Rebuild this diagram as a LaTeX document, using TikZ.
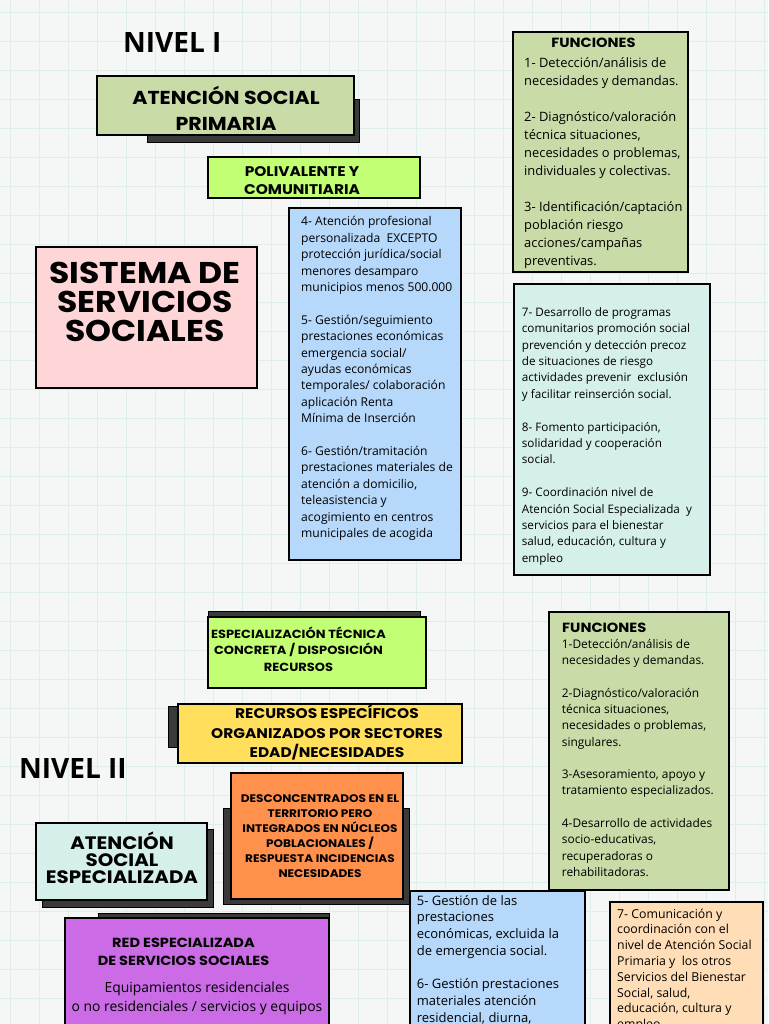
\documentclass[tikz,border=0pt]{standalone}
\usepackage{fontspec}
\setmainfont{Open Sans}
\newfontfamily\hfont{Poppins}[FakeStretch=1.1]
\definecolor{bgc}{HTML}{F5F6F6}
\definecolor{gridc}{HTML}{DFEDED}
\definecolor{shadowc}{HTML}{3A3A3A}
\definecolor{oliveg}{HTML}{C9DBA6}
\definecolor{limec}{HTML}{C3FF74}
\definecolor{pinkc}{HTML}{FFD6D8}
\definecolor{bluec}{HTML}{B6D8FB}
\definecolor{mintc}{HTML}{D5EFEB}
\definecolor{yellowc}{HTML}{FFDF5C}
\definecolor{orangec}{HTML}{FF914D}
\definecolor{purplec}{HTML}{CB6CE6}
\definecolor{peachc}{HTML}{FFDDB6}
\begin{document}
\begin{tikzpicture}[x=1pt,y=-1pt,
  box/.style={draw=black, line width=1.2pt, inner sep=0pt, outer sep=0pt, anchor=north west},
  shadowbox/.style={fill=shadowc, draw=black, line width=0.8pt, inner sep=0pt, outer sep=0pt, anchor=north west},
  body/.style={anchor=north west, inner sep=0pt, align=left, execute at begin node=\strut},
  head/.style={anchor=north, inner sep=0pt, align=center, execute at begin node=\strut},
  nivel/.style={anchor=base west, inner sep=0pt, font=\bfseries\fontsize{28}{30}\selectfont},
]
\clip (0,0) rectangle (768,1024);
\useasboundingbox (0,0) rectangle (768,1024);
\fill[bgc] (0,0) rectangle (768,1024);
\foreach \i in {10,39,...,768} \draw[gridc, line width=0.7pt] (\i,0) -- (\i,1024);
\foreach \j in {12,41,...,1024} \draw[gridc, line width=0.7pt] (0,\j) -- (768,\j);

% shadows
\node[shadowbox, minimum width=212pt, minimum height=43pt] (aspS) at (147,99) {};
\node[shadowbox, minimum width=212pt, minimum height=60pt] (espS) at (208,611) {};
\node[shadowbox, minimum width=280pt, minimum height=41pt] (recS) at (168,706) {};
\node[shadowbox, minimum width=186pt, minimum height=96pt] (desS) at (223,808) {};
\node[shadowbox, minimum width=171pt, minimum height=78pt] (aseS) at (42,829) {};
\node[shadowbox, minimum width=231pt, minimum height=130pt] (redS) at (98,913) {};

% boxes
\node[box, fill=oliveg, minimum width=257pt, minimum height=59pt] (asp) at (97,76) {};
\node[box, fill=limec, minimum width=212pt, minimum height=41pt] (poli) at (208,157) {};
\node[box, fill=pinkc, minimum width=221pt, minimum height=141pt] (sis) at (36,247) {};
\node[box, fill=oliveg, minimum width=175pt, minimum height=240pt] (funA) at (513,32) {};
\node[box, fill=bluec, minimum width=172pt, minimum height=352pt] (blueA) at (289,208) {};
\node[box, fill=mintc, minimum width=196pt, minimum height=291pt] (mint) at (514,284) {};
\node[box, fill=limec, minimum width=218pt, minimum height=71pt] (esp) at (208,617) {};
\node[box, fill=yellowc, minimum width=284pt, minimum height=59pt] (rec) at (178,704) {};
\node[box, fill=oliveg, minimum width=180pt, minimum height=278pt] (funB) at (549,612) {};
\node[box, fill=orangec, minimum width=172pt, minimum height=126pt] (des) at (231,773) {};
\node[box, fill=mintc, minimum width=171pt, minimum height=77pt] (ase) at (36,823) {};
\node[box, fill=purplec, minimum width=264pt, minimum height=130pt] (red) at (65,918) {};
\node[box, fill=bluec, minimum width=175pt, minimum height=150pt] (blueB) at (410,891) {};
\node[box, fill=peachc, minimum width=153pt, minimum height=140pt] (peach) at (610,902) {};

% titles
\node[nivel] (n1) at (123,53) {NIVEL I};
\node[nivel] (n2) at (19,778) {NIVEL II};

\node[head, font=\hfont\bfseries\fontsize{18.7}{26}\selectfont] (aspT) at (226,85.8)
  {ATENCIÓN SOCIAL\\PRIMARIA};
\node[head, font=\hfont\bfseries\fontsize{14}{18}\selectfont] (poliT) at (302,166.4)
  {POLIVALENTE Y\\COMUNITIARIA};
\node[head, font=\hfont\bfseries\fontsize{30}{29}\selectfont] (sisT) at (145,261.7)
  {SISTEMA DE\\SERVICIOS\\SOCIALES};
\node[head, font=\hfont\bfseries\fontsize{11.8}{16.5}\selectfont] (espT) at (298.5,626.5)
  {ESPECIALIZACIÓN TÉCNICA\\CONCRETA / DISPOSICIÓN\\RECURSOS};
\node[head, font=\hfont\bfseries\fontsize{14}{19.5}\selectfont] (recT) at (327,704.9)
  {RECURSOS ESPECÍFICOS\\ORGANIZADOS POR SECTORES\\EDAD/NECESIDADES};
\node[head, font=\hfont\bfseries\fontsize{11}{15}\selectfont] (desT) at (320,794.5)
  {DESCONCENTRADOS EN EL\\TERRITORIO PERO\\INTEGRADOS EN NÚCLEOS\\POBLACIONALES /\\RESPUESTA INCIDENCIAS\\NECESIDADES};
\node[head, font=\hfont\bfseries\fontsize{18}{17}\selectfont] (aseT) at (122,832.1)
  {ATENCIÓN\\SOCIAL\\ESPECIALIZADA};
\node[head, font=\hfont\bfseries\fontsize{13.2}{18}\selectfont] (redT) at (183.5,937.4)
  {RED ESPECIALIZADA\\DE SERVICIOS SOCIALES};
\node[head, font=\fontsize{13.9}{19}\selectfont] (redB) at (197,981.7)
  {Equipamientos residenciales\\o no residenciales / servicios y equipos};

\node[anchor=base, inner sep=0pt, font=\hfont\bfseries\fontsize{13.3}{14}\selectfont] (funAT) at (593.5,48) {FUNCIONES};
\node[anchor=base west, inner sep=0pt, font=\hfont\bfseries\fontsize{13.3}{14}\selectfont] (funBT) at (562,632) {FUNCIONES};

% body texts
\node[body, font=\fontsize{12.9}{18}\selectfont] (funAB) at (524,57.4)
  {1- Detección/análisis de\\necesidades y demandas.\\[18pt]
   2- Diagnóstico/valoración\\técnica situaciones,\\necesidades o problemas,\\individuales y colectivas.\\[18pt]
   3- Identificación/captación\\población riesgo\\acciones/campañas\\preventivas.};

\node[body, font=\fontsize{12.1}{16.4}\selectfont] (blueAB) at (301,216.5)
  {4- Atención profesional\\personalizada\ \ EXCEPTO\\protección jurídica/social\\menores desamparo\\municipios menos 500.000\\[16.4pt]
   5- Gestión/seguimiento\\prestaciones económicas\\emergencia social/\\ayudas económicas\\temporales/ colaboración\\aplicación Renta\\Mínima de Inserción\\[16.4pt]
   6- Gestión/tramitación\\prestaciones materiales de\\atención a domicilio,\\teleasistencia y\\acogimiento en centros\\municipales de acogida};

\node[body, font=\fontsize{11.7}{16.4}\selectfont] (mintB) at (521.7,307.2)
  {7- Desarrollo de programas\\comunitarios promoción social\\prevención y detección precoz\\de situaciones de riesgo\\actividades prevenir\ \ exclusión\\y facilitar reinserción social.\\[16.4pt]
   8- Fomento participación,\\solidaridad y cooperación\\social.\\[16.4pt]
   9- Coordinación nivel de\\Atención Social Especializada\ \ y\\servicios para el bienestar\\salud, educación, cultura y\\empleo};

\node[body, font=\fontsize{11.9}{16.3}\selectfont] (funBB) at (561.7,638.9)
  {1-Detección/análisis de\\necesidades y demandas.\\[16.3pt]
   2-Diagnóstico/valoración\\técnica situaciones,\\necesidades o problemas,\\singulares.\\[16.3pt]
   3-Asesoramiento, apoyo y\\tratamiento especializados.\\[16.3pt]
   4-Desarrollo de actividades\\socio-educativas,\\recuperadoras o\\rehabilitadoras.};

\node[body, font=\fontsize{13}{16.7}\selectfont] (blueBB) at (416.7,895)
  {5- Gestión de las\\prestaciones\\económicas, excluida la\\de emergencia social.\\[16.7pt]
   6- Gestión prestaciones\\materiales atención\\residencial, diurna,};

\node[body, font=\fontsize{12.3}{15.8}\selectfont] (peachB) at (617,908.4)
  {7- Comunicación y\\coordinación con el\\nivel de Atención Social\\Primaria y\ \ los otros\\Servicios del Bienestar\\Social, salud,\\educación, cultura y\\empleo};
\end{tikzpicture}
\end{document}
